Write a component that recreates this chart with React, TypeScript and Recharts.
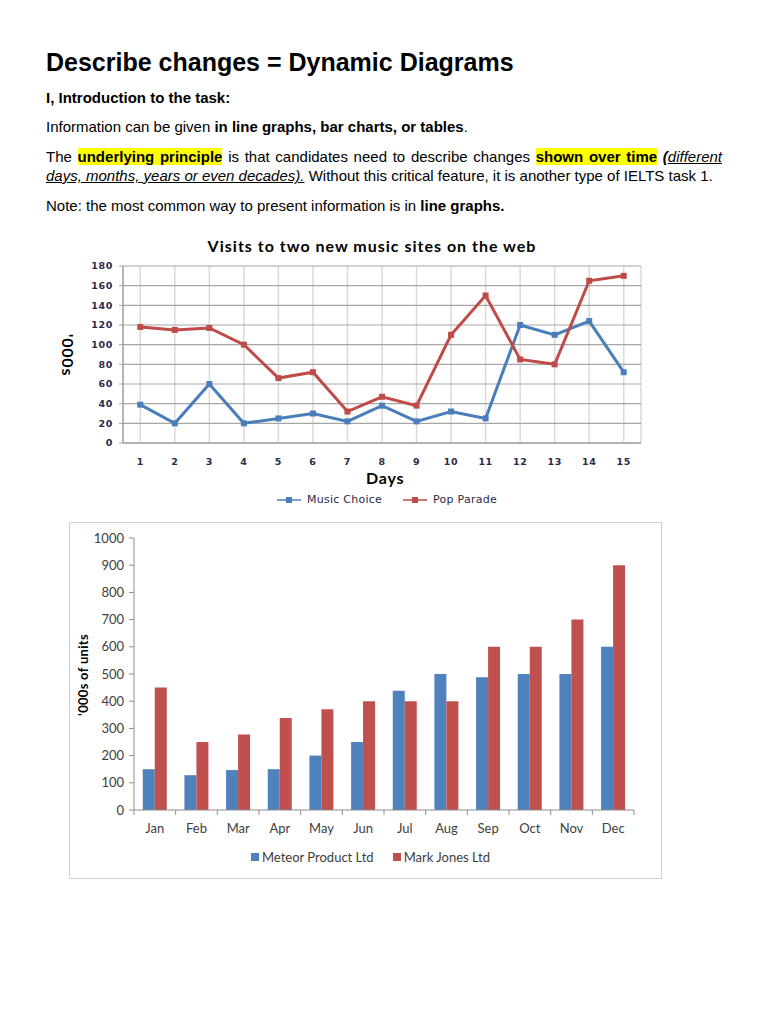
import React from "react";
import {
  LineChart,
  Line,
  BarChart,
  Bar,
  XAxis,
  YAxis,
  CartesianGrid,
} from "recharts";

// line chart: visits per day ('000s)
const days = ["1", "2", "3", "4", "5", "6", "7", "8", "9", "10", "11", "12", "13", "14", "15"];
const musicChoice = [39, 20, 60, 20, 25, 30, 22, 38, 22, 32, 25, 120, 110, 124, 72];
const popParade = [118, 115, 117, 100, 66, 72, 32, 47, 38, 110, 150, 85, 80, 165, 170];
const visitTicks = [0, 20, 40, 60, 80, 100, 120, 140, 160, 180];

// bar chart: units sold per month ('000s)
const months = ["Jan", "Feb", "Mar", "Apr", "May", "Jun", "Jul", "Aug", "Sep", "Oct", "Nov", "Dec"];
const meteor = [150, 128, 147, 150, 200, 250, 438, 500, 488, 500, 500, 600];
const markJones = [450, 250, 278, 338, 370, 400, 400, 400, 600, 600, 700, 900];
const unitTicks = [0, 100, 200, 300, 400, 500, 600, 700, 800, 900, 1000];

const BLUE_LINE = "#4A7EBB";
const RED_LINE = "#BE4B48";
const BLUE_BAR = "#4F81BD";
const RED_BAR = "#C0504D";

const visitData = days.map((d, i) => ({
  day: d,
  musicChoice: musicChoice[i],
  popParade: popParade[i],
}));

const unitData = months.map((m, i) => ({
  month: m,
  meteor: meteor[i],
  markJones: markJones[i],
}));

const SquareDot = (props: any) => {
  const { cx, cy, stroke } = props;
  if (cx == null || cy == null) return null;
  return <rect x={cx - 3} y={cy - 3} width={6} height={6} fill={stroke} />;
};

// bar chart geometry (used for the boundary tick marks)
const BAR_W = 593;
const BAR_H = 357;
const BAR_MARGIN = { top: 16, right: 28, left: 25, bottom: 41 };
const BAR_YAXIS_W = 40;
const BAR_XAXIS_H = 28;
const BAR_PLOT_W = BAR_W - BAR_MARGIN.left - BAR_MARGIN.right - BAR_YAXIS_W;
const BAR_AXIS_Y = BAR_H - BAR_MARGIN.bottom - BAR_XAXIS_H;

const MonthTick = (props: any) => {
  const { x, payload, index } = props;
  const bw = BAR_PLOT_W / months.length;
  return (
    <g>
      <line x1={x - bw / 2} x2={x - bw / 2} y1={BAR_AXIS_Y} y2={BAR_AXIS_Y + 5} stroke="#8c8c8c" />
      {index === months.length - 1 && (
        <line x1={x + bw / 2} x2={x + bw / 2} y1={BAR_AXIS_Y} y2={BAR_AXIS_Y + 5} stroke="#8c8c8c" />
      )}
      <text
        x={x}
        y={BAR_AXIS_Y + 18}
        textAnchor="middle"
        dominantBaseline="central"
        fontSize={13}
        fontFamily="Lato, sans-serif"
        fill="#404040"
      >
        {payload.value}
      </text>
    </g>
  );
};

const bodyText: React.CSSProperties = {
  position: "absolute",
  left: 46,
  fontFamily: "'Liberation Sans', Arial, sans-serif",
  fontSize: 15,
  lineHeight: "19px",
  color: "#000",
};

const hl: React.CSSProperties = { background: "#ffff00", fontWeight: "bold" };
const italicU: React.CSSProperties = { fontStyle: "italic", textDecoration: "underline" };
const smallTick = {
  fontSize: 9.5,
  fill: "#2a2a4a",
  fontFamily: "'DejaVu Sans', sans-serif",
  fontWeight: "bold",
  letterSpacing: 0.6,
};

export default function App() {
  return (
    <div
      style={{
        position: "absolute",
        left: 0,
        top: 0,
        width: 768,
        height: 1024,
        background: "#fff",
        overflow: "hidden",
      }}
    >
      <div
        style={{
          position: "absolute",
          left: 46,
          top: 47,
          fontFamily: "'Liberation Sans', Arial, sans-serif",
          fontWeight: "bold",
          fontSize: 25,
          lineHeight: "30px",
        }}
      >
        Describe changes = Dynamic Diagrams
      </div>
      <div style={{ ...bodyText, top: 88, fontWeight: "bold" }}>I, Introduction to the task:</div>
      <div style={{ ...bodyText, top: 117 }}>
        Information can be given <span style={{ fontWeight: "bold" }}>in line graphs, bar charts, or tables</span>.
      </div>
      <div style={{ ...bodyText, top: 147, width: 676, textAlign: "justify" }}>
        The <span style={hl}>underlying principle</span> is that candidates need to describe changes{" "}
        <span style={hl}>shown over time</span>{" "}
        <span style={{ ...italicU, fontWeight: "bold" }}>(</span>
        <span style={italicU}>different</span> <span style={italicU}>days, months, years or even decades).</span>{" "}
        Without this critical feature, it is another type of IELTS task 1.
      </div>
      <div style={{ ...bodyText, top: 196 }}>
        Note: the most common way to present information is in{" "}
        <span style={{ fontWeight: "bold" }}>line graphs.</span>
      </div>

      {/* line chart */}
      <div
        style={{
          position: "absolute",
          left: 0,
          width: 744,
          top: 236,
          textAlign: "center",
          fontFamily: "Lato, sans-serif",
          fontWeight: "bold",
          fontSize: 16,
          letterSpacing: 1,
          lineHeight: "20px",
          color: "#000",
        }}
      >
        Visits to two new music sites on the web
      </div>
      <div
        style={{
          position: "absolute",
          left: 48,
          top: 344,
          width: 40,
          textAlign: "center",
          transform: "rotate(90deg)",
          fontFamily: "Lato, sans-serif",
          fontWeight: "bold",
          fontSize: 16,
          letterSpacing: 0.8,
          lineHeight: "20px",
        }}
      >
        '000s
      </div>
      <div style={{ position: "absolute", left: 0, top: 255 }}>
        <LineChart
          width={660}
          height={230}
          data={visitData}
          margin={{ top: 11, right: 19, left: 73, bottom: 12 }}
        >
          <CartesianGrid horizontal={false} stroke="#dadada" strokeWidth={1.5} />
          <CartesianGrid vertical={false} stroke="#a6a6a6" strokeWidth={1.2} />
          <XAxis
            dataKey="day"
            scale="band"
            height={30}
            tickLine={false}
            tickMargin={9}
            axisLine={{ stroke: "#a6a6a6", strokeWidth: 1.5 }}
            tick={smallTick}
          />
          <YAxis
            width={50}
            domain={[0, 180]}
            ticks={visitTicks}
            interval={0}
            tickSize={4}
            tickMargin={6}
            tickLine={{ stroke: "#a6a6a6" }}
            axisLine={{ stroke: "#a6a6a6", strokeWidth: 1.5 }}
            tick={smallTick}
          />
          <Line
            dataKey="musicChoice"
            stroke={BLUE_LINE}
            strokeWidth={3}
            dot={<SquareDot />}
            isAnimationActive={false}
          />
          <Line
            dataKey="popParade"
            stroke={RED_LINE}
            strokeWidth={3}
            dot={<SquareDot />}
            isAnimationActive={false}
          />
        </LineChart>
      </div>
      <div
        style={{
          position: "absolute",
          left: 366,
          top: 468,
          fontFamily: "Lato, sans-serif",
          fontWeight: "bold",
          fontSize: 16,
          letterSpacing: 0.8,
          lineHeight: "20px",
        }}
      >
        Days
      </div>
      <div
        style={{
          position: "absolute",
          left: 277,
          top: 492,
          display: "flex",
          alignItems: "center",
          fontFamily: "'DejaVu Sans', sans-serif",
          fontSize: 11,
          letterSpacing: 0.25,
          lineHeight: "16px",
          color: "#2a2a4a",
        }}
      >
        {[
          { name: "Music Choice", color: BLUE_LINE },
          { name: "Pop Parade", color: RED_LINE },
        ].map((s) => (
          <div key={s.name} style={{ display: "flex", alignItems: "center", marginRight: 21 }}>
            <svg width={24} height={8} style={{ marginRight: 6 }}>
              <line x1={0} x2={24} y1={4} y2={4} stroke={s.color} strokeWidth={1.5} />
              <rect x={9} y={1} width={6} height={6} fill={s.color} />
            </svg>
            {s.name}
          </div>
        ))}
      </div>

      {/* bar chart */}
      <div
        style={{
          position: "absolute",
          left: 69,
          top: 522,
          width: BAR_W,
          height: BAR_H,
          border: "1px solid #d0d0d0",
          boxSizing: "border-box",
        }}
      />
      <div
        style={{
          position: "absolute",
          left: 3,
          top: 665,
          width: 160,
          textAlign: "center",
          transform: "rotate(-90deg)",
          fontFamily: "Lato, sans-serif",
          fontWeight: "bold",
          fontSize: 13,
          letterSpacing: 0.3,
          lineHeight: "20px",
          color: "#000",
        }}
      >
        '000s of units
      </div>
      <div style={{ position: "absolute", left: 69, top: 522 }}>
        <BarChart
          width={BAR_W}
          height={BAR_H}
          data={unitData}
          margin={BAR_MARGIN}
          barCategoryGap="21%"
          barGap={0}
        >
          <XAxis
            dataKey="month"
            height={BAR_XAXIS_H}
            interval={0}
            tickLine={false}
            axisLine={{ stroke: "#8c8c8c" }}
            tick={<MonthTick />}
          />
          <YAxis
            width={BAR_YAXIS_W}
            domain={[0, 1000]}
            ticks={unitTicks}
            interval={0}
            tickSize={5}
            tickMargin={5}
            tickLine={{ stroke: "#8c8c8c" }}
            axisLine={{ stroke: "#8c8c8c" }}
            tick={{ fontSize: 13, fill: "#404040", fontFamily: "Lato, sans-serif" }}
          />
          <Bar dataKey="meteor" fill={BLUE_BAR} isAnimationActive={false} />
          <Bar dataKey="markJones" fill={RED_BAR} isAnimationActive={false} />
        </BarChart>
      </div>
      <div
        style={{
          position: "absolute",
          left: 251,
          top: 849,
          display: "flex",
          alignItems: "center",
          fontFamily: "Lato, sans-serif",
          fontSize: 13,
          lineHeight: "16px",
          color: "#404040",
        }}
      >
        {[
          { name: "Meteor Product Ltd", color: BLUE_BAR },
          { name: "Mark Jones Ltd", color: RED_BAR },
        ].map((s) => (
          <div key={s.name} style={{ display: "flex", alignItems: "center", marginRight: 19 }}>
            <span
              style={{ display: "inline-block", width: 8, height: 8, background: s.color, marginRight: 3 }}
            />
            {s.name}
          </div>
        ))}
      </div>
    </div>
  );
}
